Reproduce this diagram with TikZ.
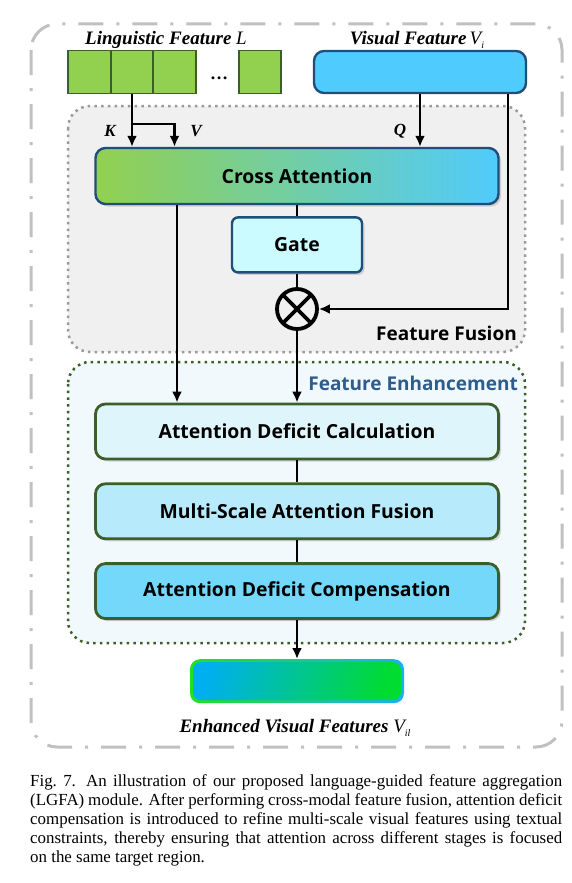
\documentclass[tikz,border=0pt]{standalone}
\usepackage{fontspec}
\setmainfont{Liberation Serif}
\newfontfamily\boxfont{Open Sans}
\usepackage{xcolor}
\usepackage{tikz}
\usetikzlibrary{arrows}
\usetikzlibrary{arrows.meta}
\usetikzlibrary{calc}
\usetikzlibrary{positioning}
\usetikzlibrary{shadows}

\definecolor{lgreen}{HTML}{92D050}
\definecolor{dgreen}{HTML}{3B5E2B}
\definecolor{vblue}{HTML}{50CBFD}
\definecolor{dblue}{HTML}{1F4E79}
\definecolor{gatecyan}{HTML}{CCFBFF}
\definecolor{adcfill}{HTML}{DFF5FC}
\definecolor{msaffill}{HTML}{B7EBFB}
\definecolor{compfill}{HTML}{74D8FB}
\definecolor{fusefill}{HTML}{F0F0F0}
\definecolor{fusedots}{HTML}{9A9A9A}
\definecolor{enhfill}{HTML}{F2F9FD}
\definecolor{enhtext}{HTML}{2E5C8C}
\definecolor{framegray}{HTML}{C0C0C0}
\definecolor{outblue}{HTML}{00AFEF}
\definecolor{outgreen}{HTML}{00DC30}
\definecolor{rimgreen}{HTML}{22E022}
\definecolor{rimblue}{HTML}{1AB0F2}

\newcommand{\vsym}[2]{{\normalfont\itshape #1}\raisebox{-4pt}{\fontsize{10}{10}\selectfont\normalfont\itshape #2}}

\begin{document}
\begin{tikzpicture}
[
	x = 1pt, y = -1pt,
	title/.style	= {font = \fontsize{19}{20}\selectfont\bfseries\itshape, inner sep = 0pt, anchor = base},
	qkv/.style	= {font = \fontsize{17}{18}\selectfont\bfseries\itshape, inner sep = 0pt},
	token/.style	= {rectangle, draw = dgreen, fill = lgreen, line width = 1.8pt, minimum width = 42.5pt, minimum height = 43pt, inner sep = 0pt, outer sep = 0pt},
	block/.style	= {rectangle, rounded corners = 10pt, line width = 2.4pt, minimum width = 403pt, minimum height = 56pt, inner sep = 0pt, font = \boxfont\bfseries\fontsize{19.4}{22}\selectfont, drop shadow = {opacity = 0.3, shadow xshift = 2.5pt, shadow yshift = -2.5pt}},
	attn/.style	= {block, draw = dblue, left color = lgreen, right color = vblue},
	gatebox/.style	= {block, draw = dblue, fill = gatecyan, minimum width = 130pt, minimum height = 55pt, rounded corners = 6pt},
	enh/.style	= {block, draw = dgreen, line width = 2.8pt, minimum height = 55pt},
	zonetext/.style	= {font = \boxfont\bfseries\fontsize{19}{22}\selectfont, inner sep = 0pt, anchor = base east},
	link/.style	= {line width = 2.8pt},
	flow/.style	= {link, -{Latex[length = 11pt, width = 10pt]}},
	node distance = 22pt,
]

	\useasboundingbox (0,0) rectangle (572,883);

	% regions
	\draw [framegray, line width = 3pt, rounded corners = 26pt, dash pattern = on 25pt off 13pt on 3pt off 13pt] (31,24) rectangle (562,747);
	\draw [fusedots, fill = fusefill, line width = 2.5pt, rounded corners = 22pt, dash pattern = on 2.5pt off 4.2pt] (68,106) rectangle (525,352);
	\draw [dgreen, fill = enhfill, line width = 2.5pt, rounded corners = 22pt, dash pattern = on 2.5pt off 4.2pt] (68,362) rectangle (525,643);

	% inputs
	\node (ltitle) [title] at (166,45) {Linguistic Feature \vsym{L}{}};
	\node (vtitle) [title] at (417,45) {Visual Feature\,\vsym{V}{i}};
	\node (lf1) [token] at (89.5,72) {};
	\node (lf2) [token, right = 0pt of lf1] {};
	\node (lf3) [token, right = 0pt of lf2] {};
	\node (ldots) [font = \bfseries\fontsize{18}{18}\selectfont] at (219,78) {\ldots};
	\node (lf4) [token] at (260,72) {};
	\node (vis) [rectangle, rounded corners = 10pt, draw = dblue, fill = vblue, line width = 2.4pt, minimum width = 212pt, minimum height = 42pt] at (420,72) {};
	%
	\node (kl) [qkv] at (110,131) {K};
	\node (vl) [qkv] at (196,131) {V};
	\node (ql) [qkv] at (400,131) {Q};

	% fusion
	\node (ca) [attn] at (297,176) {Cross Attention};
	\node (gate) [gatebox, below = 11pt of ca] {Gate};
	\node (mul) [circle, draw, line width = 3.8pt, minimum size = 40pt, inner sep = 0pt, below = 13.5pt of gate,
		path picture = {\draw [line width = 3.8pt] (path picture bounding box.north west) -- (path picture bounding box.south east);
			\draw [line width = 3.8pt] (path picture bounding box.south west) -- (path picture bounding box.north east);}] {};
	\node (fuselabel) [zonetext] at (517,340) {Feature Fusion};

	% enhancement
	\node (enhlabel) [zonetext, text = enhtext] at (518,390) {Feature Enhancement};
	\node (adc) [enh, fill = adcfill, below = 71.7pt of mul] {Attention Deficit Calculation};
	\node (msaf) [enh, fill = msaffill, below = of adc] {Multi-Scale Attention Fusion};
	\node (comp) [enh, fill = compfill, below = of msaf] {Attention Deficit Compensation};

	% output
	\node (out) [rectangle, rounded corners = 10pt, minimum width = 214pt, minimum height = 44pt, inner sep = 0pt, left color = rimgreen, right color = rimblue, below = 39pt of comp,
		path picture = {\shade [rounded corners = 8pt, left color = outblue, right color = outgreen, shading angle = 75] ([shift = {(3pt,3pt)}]path picture bounding box.south west) rectangle ([shift = {(-3pt,-3pt)}]path picture bounding box.north east);}] {};
	\node (outlabel) [title] at (295,732) {Enhanced Visual Features \vsym{V}{il}};

	% connectors
	\coordinate (kv) at (lf2.south |- 0,124);
	\coordinate (vr) at ([xshift = 88pt]vis.south);
	\draw [flow] (lf2.south) -- (lf2.south |- ca.north);
	\draw [flow] (kv) -| (lf3.south |- ca.north);
	\draw [flow] (vis.south) -- (vis.south |- ca.north);
	\draw [flow] (vr) |- (mul.east);
	%
	\draw [link] (ca.south) -- (gate.north);
	\draw [link] (gate.south) -- (mul.north);
	\draw [flow] (mul.south) -- (adc.north);
	\draw [flow] ([xshift = -120pt]ca.south) -- ([xshift = -120pt]adc.north);
	%
	\draw [link] (adc.south) -- (msaf.north);
	\draw [link] (msaf.south) -- (comp.north);
	\draw [flow] (comp.south) -- (out.north);

	% caption
	\node (caption) [anchor = north west, inner sep = 0pt, text width = 532pt, align = justify, font = \fontsize{16.9}{19}\selectfont] at (30,774)
		{\hyphenpenalty=10000 Fig.~7.\hspace{0.6em}An illustration of our proposed language-guided feature aggregation\linebreak
		(LGFA) module. After performing cross-modal feature fusion, attention deficit\linebreak
		compensation is introduced to refine multi-scale visual features using textual\linebreak
		constraints, thereby ensuring that attention across different stages is focused\linebreak
		on the same target region.};

\end{tikzpicture}
\end{document}
